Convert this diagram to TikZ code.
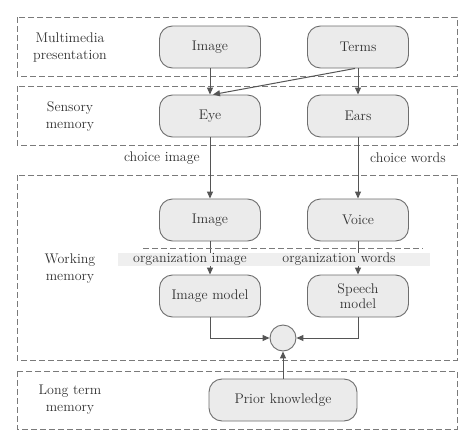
\documentclass[tikz,border=0pt]{standalone}
\usetikzlibrary{arrows.meta}
\definecolor{boxfill}{HTML}{EBEBEB}
\definecolor{boxline}{HTML}{6E6E6E}
\definecolor{arrline}{HTML}{555555}
\definecolor{dashline}{HTML}{7A7A7A}
\definecolor{bandfill}{HTML}{EFEFEF}
\definecolor{txtcol}{HTML}{333333}
\tikzset{
  proc/.style={draw=boxline, fill=boxfill, line width=0.9pt, rounded corners=13pt,
    minimum width=101pt, minimum height=42pt, align=center, inner sep=2pt,
    text=txtcol, font=\fontsize{14}{15}\selectfont},
  layer/.style={draw=dashline, line width=0.9pt, dash pattern=on 6pt off 3pt},
  lbl/.style={align=center, text=txtcol, font=\fontsize{14}{17}\selectfont},
  txt/.style={text=txtcol, font=\fontsize{14}{16}\selectfont, inner sep=1pt},
  arr/.style={draw=arrline, line width=1pt, -{Triangle[length=7pt,width=6pt]}},
}
\begin{document}
\begin{tikzpicture}[x=1pt,y=-1pt]
\useasboundingbox[fill=white] (0,0) rectangle (474,447);
% layers
\draw[layer] (17,17) rectangle (457,76);
\draw[layer] (17,86) rectangle (457,145);
\draw[layer] (17,175) rectangle (457,360);
\draw[layer] (17,371) rectangle (457,429);
% layer labels
\node[lbl] (l1) at (70,47) {Multimedia\\presentation};
\node[lbl] (l2) at (70,116) {Sensory\\memory};
\node[lbl] (l3) at (70,269) {Working\\memory};
\node[lbl] (l4) at (70,400) {Long term\\memory};
% nodes
\node[proc] (img1) at (210,47) {Image};
\node[proc] (terms) at (358,47) {Terms};
\node[proc] (eye) at (210,116) {Eye};
\node[proc] (ears) at (358,116) {Ears};
\node[proc] (img2) at (210,220) {Image};
\node[proc] (voice) at (358,220) {Voice};
\node[proc] (imgm) at (210,296) {Image model};
\node[proc] (speech) at (358,296) {Speech\\model};
\node[draw=boxline, fill=boxfill, line width=0.9pt, circle, minimum size=26pt, inner sep=0pt] (sum) at (283,338) {};
\node[proc, minimum width=148pt] (prior) at (283,400) {Prior knowledge};
% arrows
\draw[arr] (img1) -- (eye);
\draw[arr] ([xshift=-3pt]terms.south) -- ([xshift=3pt]eye.north);
\draw[arr] (terms) -- (ears);
\draw[arr] (eye) -- (img2);
\draw[arr] (ears) -- (voice);
\draw[arr] (img2) -- (imgm);
\draw[arr] (voice) -- (speech);
\draw[arr] (imgm.south) |- (sum.west);
\draw[arr] (speech.south) |- (sum.east);
\draw[arr] (prior) -- (sum);
% choice labels
\node[txt, anchor=east] (ci) at (201,158) {choice image};
\node[txt, anchor=west] (cw) at (369,158) {choice words};
% organization band
\draw[dashline, line width=0.9pt, dash pattern=on 6pt off 3pt] (143,248) -- (423,248);
\fill[bandfill] (118,253) rectangle (430,266);
\node[txt] (oi) at (190,259) {organization image};
\node[txt] (ow) at (339,259) {organization words};
\end{tikzpicture}
\end{document}
